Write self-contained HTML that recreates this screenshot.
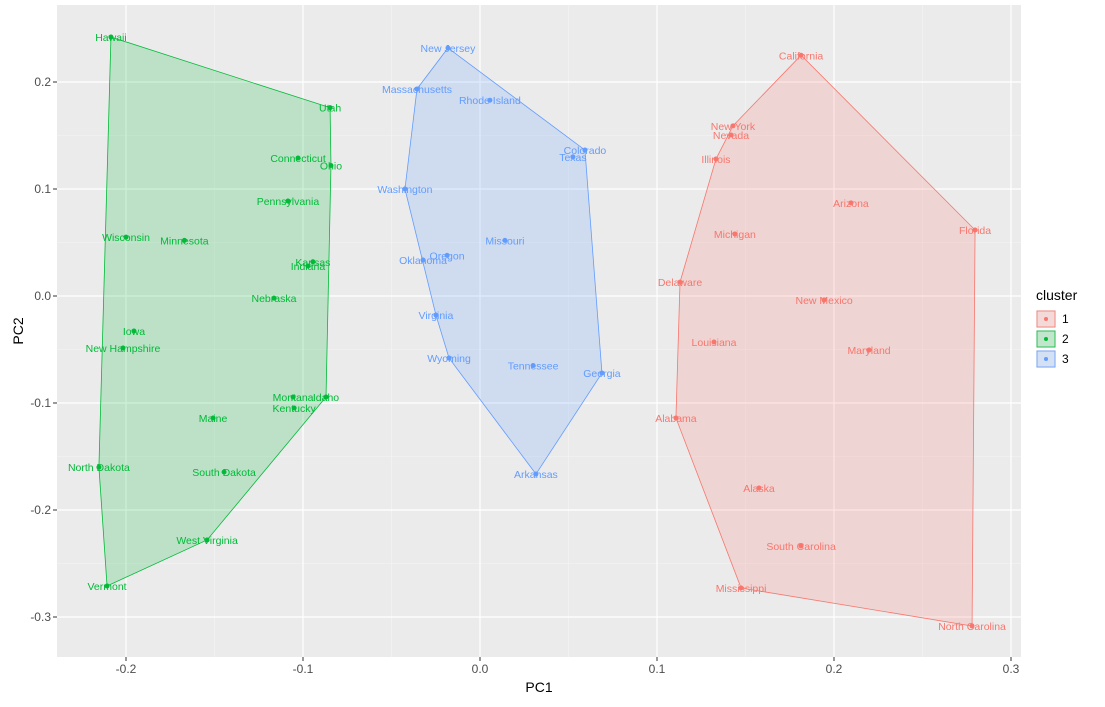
<!DOCTYPE html>
<html><head><meta charset="utf-8"><style>
body{margin:0;background:#fff;font-family:"Liberation Sans",sans-serif}
svg text{font-family:"Liberation Sans",sans-serif}
</style></head><body>
<svg id="chart" width="1105" height="702"></svg>
<script>
const states1=["California","New York","Nevada","Illinois","Arizona","Florida","Michigan","Delaware","New Mexico","Louisiana","Maryland","Alabama","Alaska","South Carolina","Mississippi","North Carolina"];
const pc1_1=[0.1814,0.1429,0.1418,0.1333,0.2096,0.2797,0.144,0.113,0.1944,0.1322,0.2198,0.1107,0.1576,0.1814,0.1475,0.278];
const pc2_1=[0.225,0.159,0.1505,0.128,0.087,0.0617,0.058,0.013,-0.0037,-0.043,-0.0505,-0.114,-0.1794,-0.2336,-0.2729,-0.3084];
const states2=["Hawaii","Utah","Connecticut","Ohio","Pennsylvania","Wisconsin","Minnesota","Kansas","Indiana","Nebraska","Iowa","New Hampshire","Montana","Idaho","Kentucky","Maine","North Dakota","South Dakota","West Virginia","Vermont"];
const pc1_2=[-0.2085,-0.0847,-0.1028,-0.0842,-0.1085,-0.2,-0.167,-0.0944,-0.0972,-0.1164,-0.1955,-0.2017,-0.1056,-0.087,-0.105,-0.1508,-0.2153,-0.1446,-0.1542,-0.2107];
const pc2_2=[0.242,0.176,0.129,0.122,0.0888,0.055,0.052,0.032,0.028,-0.002,-0.0327,-0.0486,-0.0944,-0.0944,-0.1047,-0.114,-0.16,-0.1645,-0.228,-0.271];
const states3=["New Jersey","Massachusetts","Rhode Island","Colorado","Texas","Washington","Missouri","Oregon","Oklahoma","Virginia","Wyoming","Tennessee","Georgia","Arkansas"];
const pc1_3=[-0.0181,-0.0356,0.0056,0.0593,0.0525,-0.0424,0.0141,-0.0186,-0.0322,-0.0249,-0.0175,0.03,0.0689,0.0316];
const pc2_3=[0.2318,0.1935,0.183,0.1364,0.13,0.1,0.052,0.038,0.0336,-0.0178,-0.058,-0.065,-0.072,-0.1664];
const xTicks=[-0.2,-0.1,0,0.1,0.2,0.3];
const xTickLabels=["-0.2","-0.1","0.0","0.1","0.2","0.3"];
const yTicks=[0.2,0.1,0,-0.1,-0.2,-0.3];
const yTickLabels=["0.2","0.1","0.0","-0.1","-0.2","-0.3"];
const clusterLabels=["1","2","3"];

const NS="http://www.w3.org/2000/svg";
const svg=document.getElementById("chart");
const L=57,R=1021,T=5,B=657;
const sx=v=>480+v*1770, sy=v=>296-v*1070;
function mk(tag,attrs,parent){const e=document.createElementNS(NS,tag);for(const k in attrs)e.setAttribute(k,attrs[k]);(parent||svg).appendChild(e);return e;}
const bg=mk("rect",{x:L,y:T,width:R-L,height:B-T,fill:"#EBEBEB"});


// minor grid
for(let v=-0.25;v<=0.35;v+=0.1){const x=sx(v);if(x>L&&x<R){const l=mk("line",{x1:x,x2:x,y1:T,y2:B,stroke:"#F5F5F5","stroke-width":0.6});}}
for(let v=-0.35;v<=0.25;v+=0.1){const y=sy(v);if(y>T&&y<B){const l=mk("line",{x1:L,x2:R,y1:y,y2:y,stroke:"#F5F5F5","stroke-width":0.6});}}
xTicks.forEach((v,i)=>{const x=sx(v);
 const g=mk("line",{x1:x,x2:x,y1:T,y2:B,stroke:"#fff","stroke-width":1.2});
 const tk=mk("line",{x1:x,x2:x,y1:B,y2:B+4,stroke:"#333"});
 const t=mk("text",{x:x,y:B+16,"text-anchor":"middle","font-size":12,fill:"#4D4D4D"});t.textContent=xTickLabels[i];});
yTicks.forEach((v,i)=>{const y=sy(v);
 const g=mk("line",{x1:L,x2:R,y1:y,y2:y,stroke:"#fff","stroke-width":1.2});
 const tk=mk("line",{x1:L-4,x2:L,y1:y,y2:y,stroke:"#333"});
 const t=mk("text",{x:L-6,y:y+4,"text-anchor":"end","font-size":12,fill:"#4D4D4D"});t.textContent=yTickLabels[i];});
function hull(pts){pts=pts.slice().sort((a,b)=>a[0]-b[0]||a[1]-b[1]);const cr=(o,a,b)=>(a[0]-o[0])*(b[1]-o[1])-(a[1]-o[1])*(b[0]-o[0]);const lo=[],up=[];for(const p of pts){while(lo.length>=2&&cr(lo[lo.length-2],lo[lo.length-1],p)<=0)lo.pop();lo.push(p);}for(const p of pts.slice().reverse()){while(up.length>=2&&cr(up[up.length-2],up[up.length-1],p)<=0)up.pop();up.push(p);}lo.pop();up.pop();return lo.concat(up);}
const clusters=[[states1,pc1_1,pc2_1,"#F8766D"],[states2,pc1_2,pc2_2,"#00BA38"],[states3,pc1_3,pc2_3,"#619CFF"]];
clusters.forEach(([names,xs,ys,col],ci)=>{
 const pts=xs.map((x,i)=>[sx(x),sy(ys[i])]);
 const h=hull(pts);
 const poly=mk("polygon",{points:h.map(p=>p.join(",")).join(" "),fill:col,"fill-opacity":0.2,stroke:col,"stroke-width":0.8});
 
 
 pts.forEach((p,i)=>{
  const c=mk("circle",{cx:p[0],cy:p[1],r:2.5,fill:col});
  
  
  const t=mk("text",{x:p[0],y:p[1]+4,"text-anchor":"middle","font-size":10.5,fill:col});
  t.textContent=names[i];
  
  
 });
});
const xt=mk("text",{x:(L+R)/2,y:692,"text-anchor":"middle","font-size":14,fill:"#000"});xt.textContent="PC1";

const yt=mk("text",{x:23,y:331,"text-anchor":"middle","font-size":14,fill:"#000",transform:"rotate(-90 23 331)"});yt.textContent="PC2";

const lt=mk("text",{x:1036,y:300,"font-size":14,fill:"#000"});lt.textContent="cluster";

clusters.forEach(([n,x,y,col],i)=>{const y0=310+i*20;
 const g=mk("g",{});
 mk("rect",{x:1036,y:y0,width:20,height:18,fill:"#F2F2F2"},g);
 mk("rect",{x:1037,y:y0+1,width:18,height:16,fill:col,"fill-opacity":0.2,stroke:col,"stroke-width":0.8},g);
 mk("circle",{cx:1046,cy:y0+9,r:2,fill:col},g);
 const t=mk("text",{x:1062,y:y0+13,"font-size":12,fill:"#000"},g);t.textContent=clusterLabels[i];});
</script>
</body></html>
